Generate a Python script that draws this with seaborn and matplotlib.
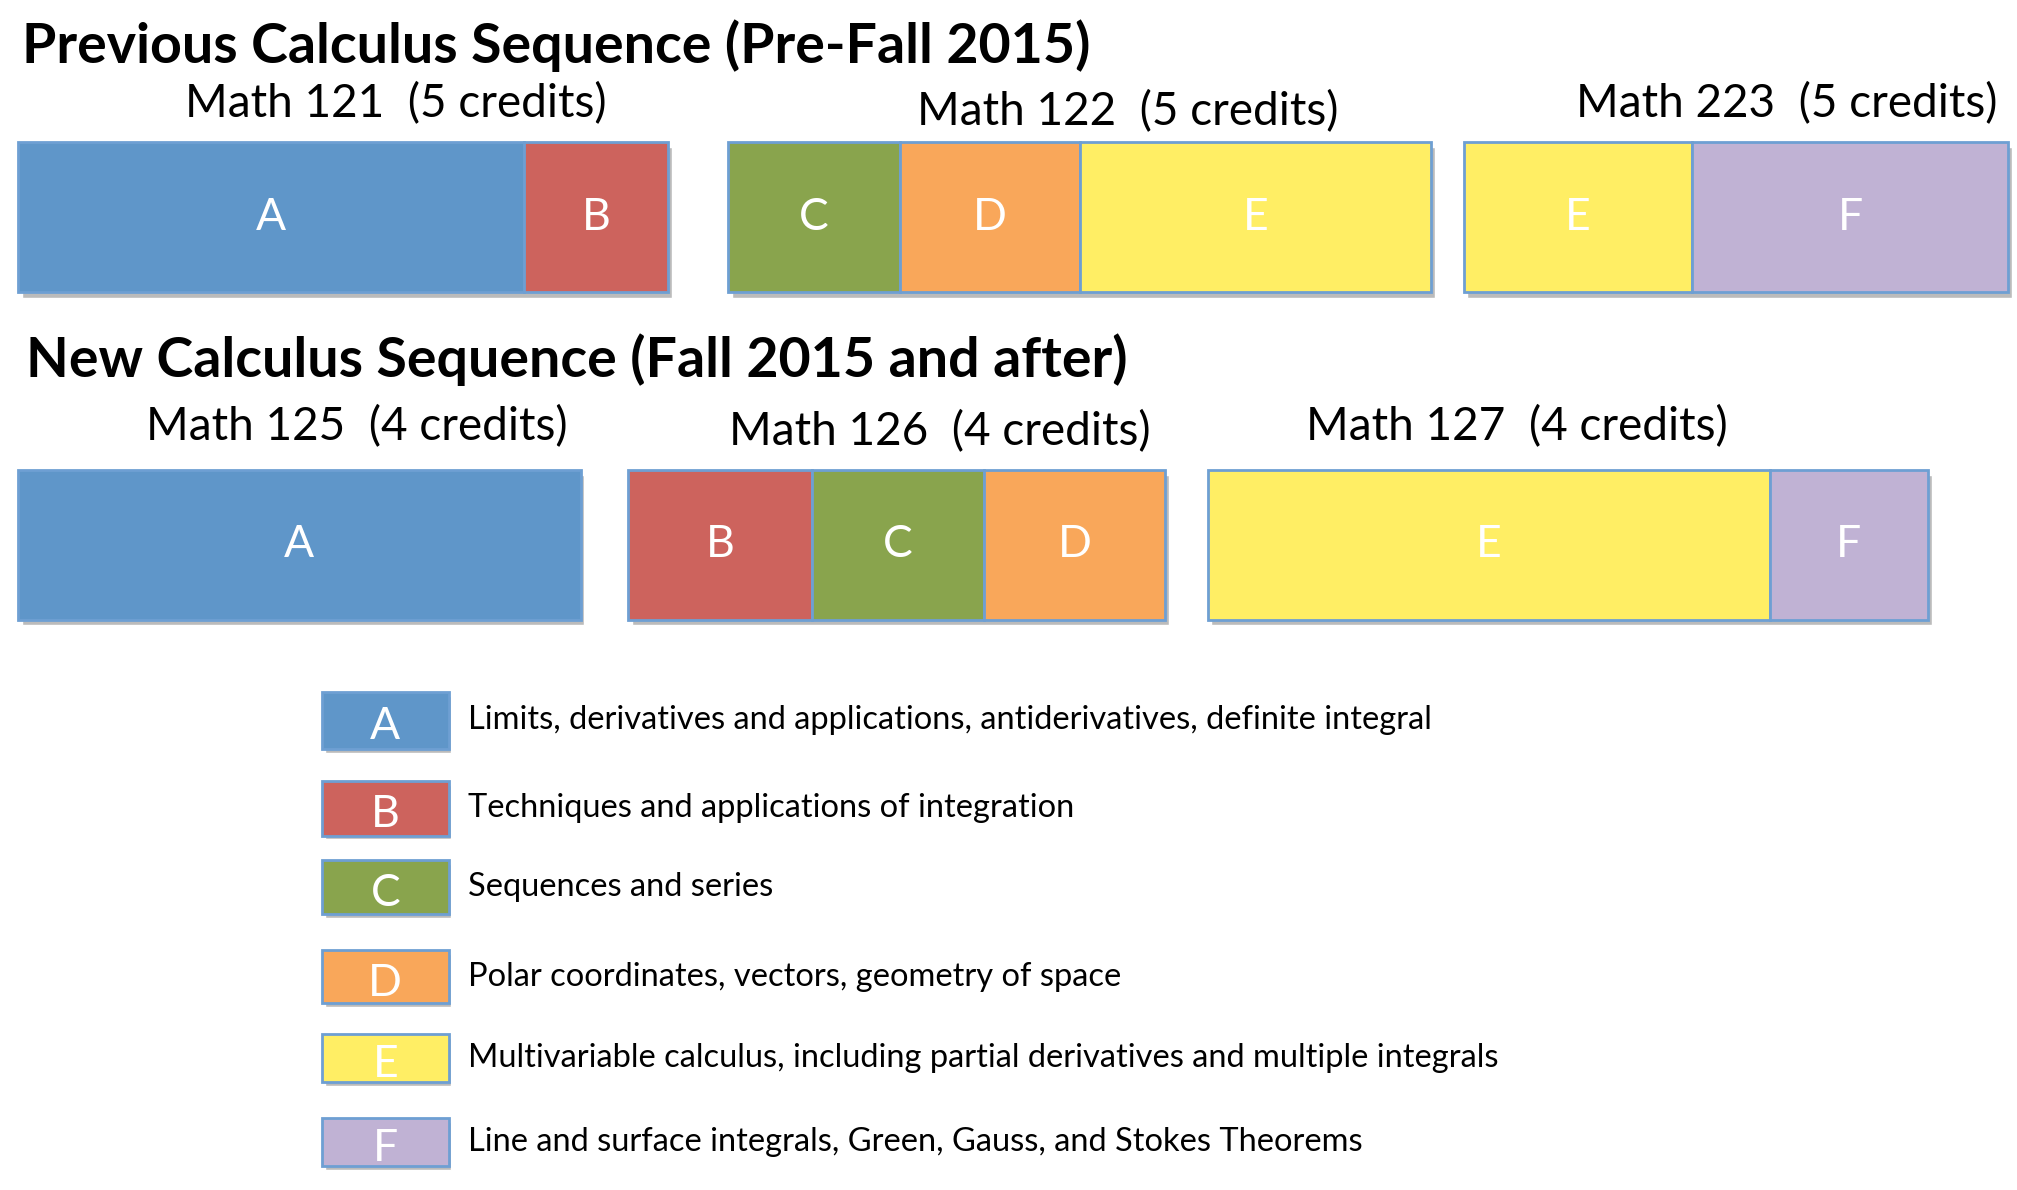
import matplotlib
matplotlib.use("Agg")
import matplotlib.pyplot as plt
import seaborn as sns

sns.set_theme(style="white", font="Lato")

# ---- data ----
row_titles = ["Previous Calculus Sequence (Pre-Fall 2015)", "New Calculus Sequence (Fall 2015 and after)"]
courses = ["Math 121", "Math 122", "Math 223", "Math 125", "Math 126", "Math 127"]
credits = ["(5 credits)", "(5 credits)", "(5 credits)", "(4 credits)", "(4 credits)", "(4 credits)"]
course_row = [0, 0, 0, 1, 1, 1]
course_start = [14, 563, 1132, 14, 486, 934]
segment_topics = [["A", "B"], ["C", "D", "E"], ["E", "F"], ["A"], ["B", "C", "D"], ["E", "F"]]
segment_widths = [[391, 112], [133, 139, 272], [177, 244], [435], [142, 133, 140], [435, 122]]
topics = ["A", "B", "C", "D", "E", "F"]
topic_desc = [
    "Limits, derivatives and applications, antiderivatives, definite integral",
    "Techniques and applications of integration",
    "Sequences and series",
    "Polar coordinates, vectors, geometry of space",
    "Multivariable calculus, including partial derivatives and multiple integrals",
    "Line and surface integrals, Green, Gauss, and Stokes Theorems",
]
topic_colors = ["#5F96C9", "#CD635D", "#89A44D", "#F9A75A", "#FFEE64", "#C0B2D4"]
color_of = dict(zip(topics, topic_colors))

# ---- layout ----
row_y = [168, 421]
bar_h = 116
title_pos = [(17, 35), (20, 278)]
course_label_pos = [(306, 80), (872, 86), (1382, 80), (276, 330), (727, 334), (1173, 330)]
legend_y = [557, 625, 686, 755, 818, 883]
legend_h = [44, 42, 42, 41, 37, 37]

fig = plt.figure(figsize=(20.17, 11.9), dpi=100)
ax = fig.add_axes([0, 0, 1, 1])
ax.set_xlim(0, 1560)
ax.set_ylim(920, 0)
ax.axis("off")

for t, (x, y) in zip(row_titles, title_pos):
    ax.text(x, y, t, fontsize=40, fontweight="bold", ha="left", va="center", color="black")

for i, c in enumerate(courses):
    y = row_y[course_row[i]]
    left = course_start[i]
    total = sum(segment_widths[i])
    ax.barh(y + 4, total, left=left + 3, height=bar_h, color="#BBBBBB", zorder=1)
    for top, w in zip(segment_topics[i], segment_widths[i]):
        ax.barh(y, w, left=left, height=bar_h, color=color_of[top],
                edgecolor="#6E9FD3", linewidth=2, zorder=2)
        ax.text(left + w / 2, y, top, color="white", fontsize=32, ha="center", va="center", zorder=3)
        left += w
    lx, ly = course_label_pos[i]
    ax.text(lx, ly, f"{c}  {credits[i]}", fontsize=33, ha="center", va="center", color="black")

for k, top in enumerate(topics):
    y = legend_y[k]
    ax.barh(y + 3, 98, left=251, height=legend_h[k], color="#BBBBBB", zorder=1)
    ax.barh(y, 98, left=249, height=legend_h[k], color=color_of[top],
            edgecolor="#6E9FD3", linewidth=2, zorder=2)
    ax.text(298, y + 5, top, color="white", fontsize=32, ha="center", va="center", zorder=3)
    ax.text(362, y, topic_desc[k], fontsize=23.5, ha="left", va="center", color="black")

fig.savefig("out.png", dpi=100, facecolor="white")
